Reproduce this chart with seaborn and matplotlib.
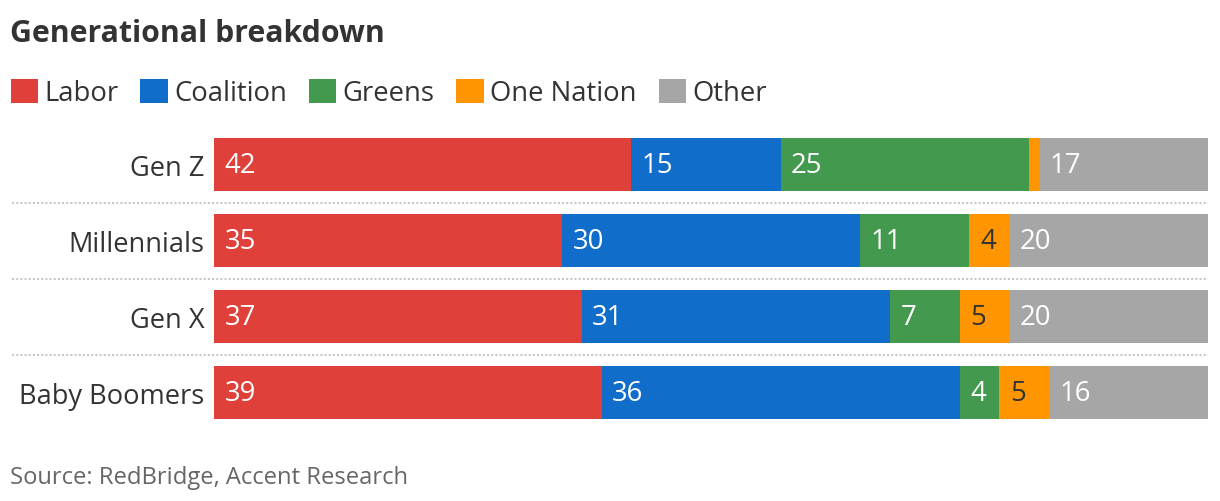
import numpy as np
import pandas as pd
import matplotlib.pyplot as plt
import seaborn as sns
from matplotlib.patches import Patch

# Data
generations = ["Gen Z", "Millennials", "Gen X", "Baby Boomers"]
parties = ["Labor", "Coalition", "Greens", "One Nation", "Other"]
labor = [42, 35, 37, 39]
coalition = [15, 30, 31, 36]
greens = [25, 11, 7, 4]
one_nation = [1, 4, 5, 5]
other = [17, 20, 20, 16]

colors = ["#e0403a", "#106dc9", "#439a4f", "#ff9500", "#a6a6a6"]
label_colors = ["white", "white", "white", "#333333", "white"]

df = pd.DataFrame({"Generation": generations, "Labor": labor, "Coalition": coalition,
                   "Greens": greens, "One Nation": one_nation, "Other": other})
cum = df[parties].cumsum(axis=1)

sns.set_style("white")
plt.rcParams["font.family"] = ["Open Sans", "Noto Sans", "DejaVu Sans"]

fig = plt.figure(figsize=(12.2, 5.02), dpi=100)
ax = fig.add_axes([0.1754, 0.1404, 0.8148, 0.6056])

# Stacked bars: draw cumulative totals from the widest down
for party, col in reversed(list(zip(parties, colors))):
    sns.barplot(data=cum.assign(Generation=df["Generation"]), x=party, y="Generation",
                orient="h", color=col, saturation=1, width=0.7, errorbar=None,
                linewidth=0, ax=ax)

# Value labels
for i, gen in enumerate(generations):
    left = 0
    for party, lc in zip(parties, label_colors):
        v = df.loc[i, party]
        if v >= 2:
            ax.annotate(str(v), xy=(left, i), xytext=(7.5, -0.5), textcoords="offset points",
                        ha="left", va="center", color=lc, fontsize=19.8)
        left += v

ax.set_xlim(0, 100)
ax.set_ylim(3.5, -0.5)
ax.set_xlabel("")
ax.set_ylabel("")
ax.set_xticks([])
ax.tick_params(axis="y", length=0, pad=7, labelsize=19.6, labelcolor="#333333")
sns.despine(ax=ax, left=True, bottom=True)

# Dotted separators between rows
for y in [0.5, 1.5, 2.5]:
    ax.axhline(y, xmin=-0.203, xmax=1, color="#c8c8c8", linestyle=(0, (1, 1)),
               linewidth=1.5, clip_on=False)

fig.text(0.0082, 0.9163, "Generational breakdown", fontsize=21.8, fontweight="bold",
         color="#333333", va="baseline", ha="left")

handles = [Patch(facecolor=c, edgecolor="none") for c in colors]
fig.legend(handles, parties, loc="center left", bbox_to_anchor=(0.002, 0.8127), ncol=5,
           frameon=False, fontsize=19.8, handlelength=1.0, handleheight=1.0,
           handletextpad=0.22, columnspacing=0.8, borderaxespad=0, borderpad=0.3,
           labelcolor="#333333")

fig.text(0.0082, 0.036, "Source: RedBridge, Accent Research", fontsize=17.1,
         color="#666666", va="baseline", ha="left")

fig.savefig("out.png", dpi=100)
